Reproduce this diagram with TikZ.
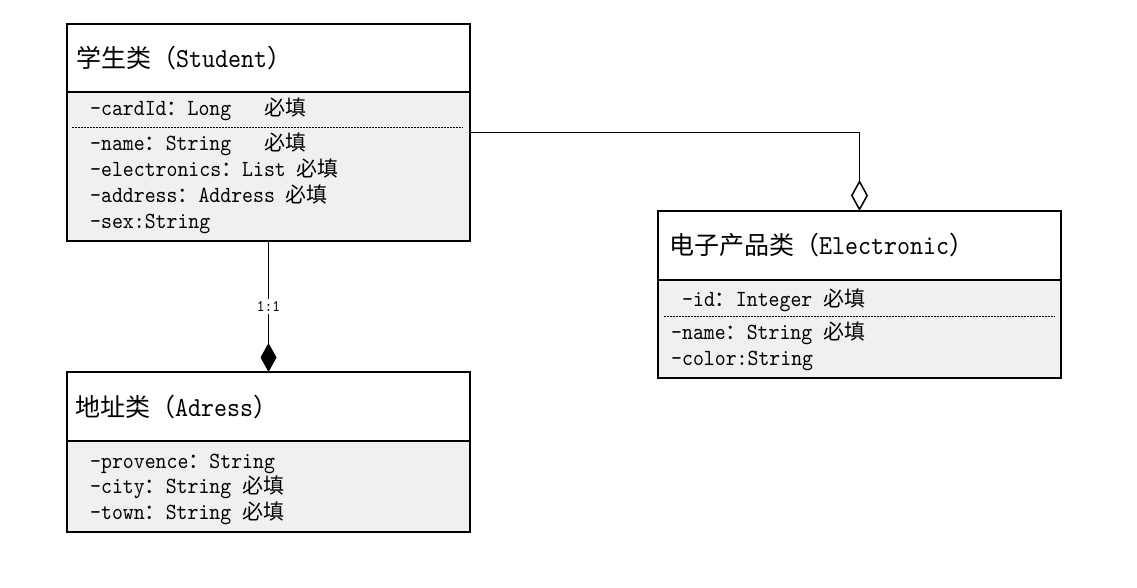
\documentclass[tikz,border=0pt]{standalone}
\usepackage{fontspec}
\setmonofont{lmmono10-regular.otf}[Scale=1.1, FakeStretch=0.9]
\newfontfamily\cjk{Noto Sans CJK SC}
\usetikzlibrary{arrows.meta}
\definecolor{attrgray}{RGB}{240,240,240}
\newcommand\zh[1]{{\cjk #1}}
\begin{document}
\begin{tikzpicture}[x=1pt,y=-1pt,
  comp/.style={draw=black, line width=1.6pt, inner sep=0pt, outer sep=0pt, minimum width=403pt},
  titlecomp/.style={comp, fill=white},
  attrcomp/.style={comp, fill=attrgray},
  frame/.style={draw=black, line width=1.8pt, inner sep=0pt, outer sep=0pt, minimum width=403pt},
  attr/.style={anchor=west, inner sep=0pt, font=\ttfamily\fontsize{21}{26}\selectfont, text height=16.8pt, text depth=0.8pt},
  ttl/.style={anchor=west, inner sep=0pt, font=\ttfamily\fontsize{25}{30}\selectfont, text height=20pt, text depth=1pt},
  sep/.style={line width=0.9pt, dash pattern=on 2pt off 1pt},
  conn/.style={line width=1.7pt},
  lbl/.style={fill=white, inner sep=2pt, font=\ttfamily\fontsize{15}{17}\selectfont}
]
\useasboundingbox (0,0) rectangle (1137,588);
\fill[white] (0,0) rectangle (1137,588);

% Student
\node[titlecomp, minimum height=68pt] (stuT) at (268.5,58) {};
\node[attrcomp, minimum height=149pt] (stuA) at (268.5,166.5) {};
\node[frame, minimum height=217pt] (student) at (268.5,132.5) {};
\node[ttl] (stuName) at (76,58) {\zh{学生类（}Student\zh{）}};
\node[attr] (s1) at (90,108) {-cardId\zh{：}Long\ \ \ \zh{必填}};
\node[attr] (s2) at (90,143) {-name\zh{：}String\ \ \ \zh{必填}};
\node[attr] (s3) at (90,169) {-electronics\zh{：}List \zh{必填}};
\node[attr] (s4) at (90,195) {-address\zh{：}Address \zh{必填}};
\node[attr] (s5) at (90,221) {-sex:String};
\draw[sep] (72,127) -- (463,127);

% Electronic
\node[titlecomp, minimum height=69pt] (elT) at (859.5,245.5) {};
\node[attrcomp, minimum height=98pt] (elA) at (859.5,329) {};
\node[frame, minimum height=167pt] (elec) at (859.5,294.5) {};
\node[ttl] (elName) at (669,245) {\zh{电子产品类（}Electronic\zh{）}};
\node[attr] (e1) at (682,298) {-id\zh{：}Integer \zh{必填}};
\node[attr] (e2) at (671,331) {-name\zh{：}String \zh{必填}};
\node[attr] (e3) at (671,357) {-color:String};
\draw[sep] (664,316) -- (1055,316);

% Address
\node[titlecomp, minimum height=69pt] (adT) at (268.5,406.5) {};
\node[attrcomp, minimum height=91pt] (adA) at (268.5,486.5) {};
\node[frame, minimum height=160pt] (addr) at (268.5,452) {};
\node[ttl] (adName) at (75,407) {\zh{地址类（}Adress\zh{）}};
\node[attr] (a1) at (90,460) {-provence\zh{：}String};
\node[attr] (a2) at (90,485) {-city\zh{：}String \zh{必填}};
\node[attr] (a3) at (90,511) {-town\zh{：}String \zh{必填}};

% Connectors
\draw[conn, -{Diamond[open, length=31pt, width=17pt, line width=1.5pt]}] (student.east) -| (elec.north);
\draw[conn, -{Diamond[length=29pt, width=16pt]}] (student.south) -- node[lbl] (ratio) {1:1} (addr.north);
\end{tikzpicture}
\end{document}
